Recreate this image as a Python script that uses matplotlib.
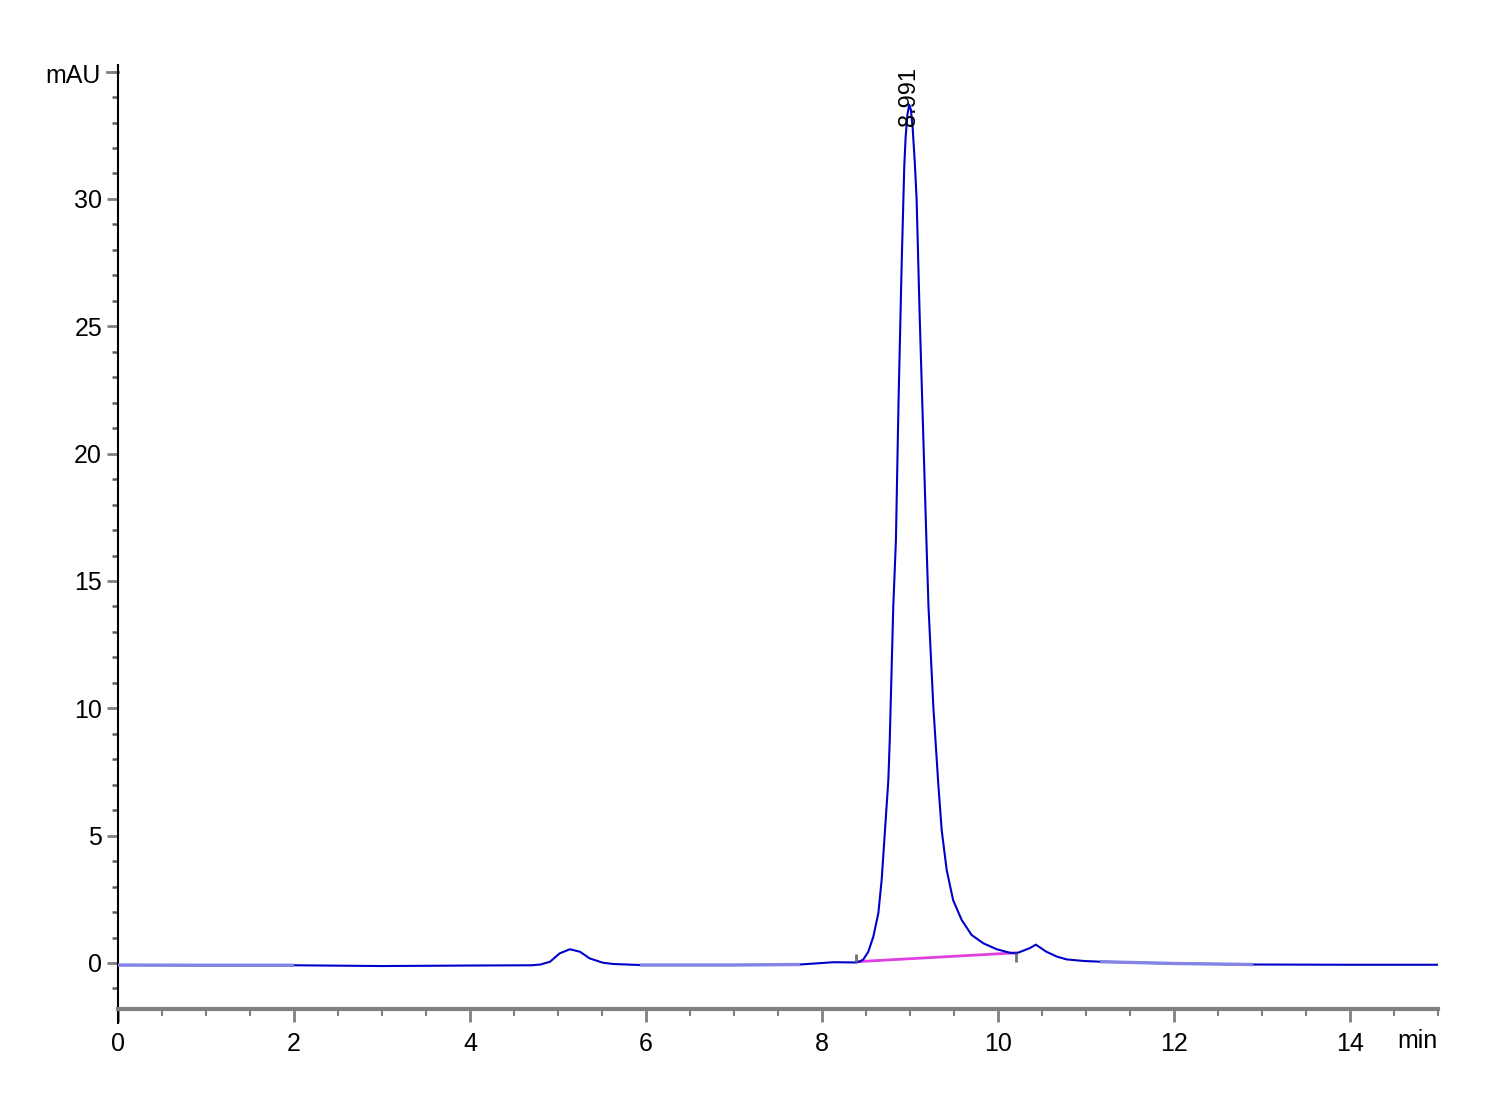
import matplotlib
matplotlib.use("Agg")
import matplotlib.pyplot as plt
import numpy as np
from matplotlib.ticker import MultipleLocator

# ---- data ----
time_min = [0.0, 1.0, 2.0, 3.0, 4.0, 4.7, 4.8, 4.91, 5.02, 5.136, 5.25, 5.36,
            5.51, 5.63, 5.93, 7.0, 7.75, 8.13, 8.39, 8.43, 8.47, 8.526, 8.583,
            8.64, 8.678, 8.716, 8.754, 8.77, 8.79, 8.81, 8.84, 8.87, 8.905,
            8.935, 8.95, 8.97, 8.991, 9.01, 9.03, 9.055, 9.075, 9.11, 9.15,
            9.19, 9.21, 9.265, 9.322, 9.36, 9.417, 9.49, 9.587, 9.70, 9.835,
            9.985, 10.136, 10.21, 10.36, 10.43, 10.55, 10.67, 10.78, 10.97,
            11.16, 12.0, 12.9, 14.0, 15.0]
signal_mau = [-0.08, -0.09, -0.09, -0.12, -0.10, -0.09, -0.06, 0.05, 0.38,
              0.54, 0.44, 0.18, 0.01, -0.04, -0.08, -0.08, -0.06, 0.03, 0.02,
              0.06, 0.14, 0.44, 1.03, 1.95, 3.26, 5.22, 7.19, 8.76, 11.4,
              14.0, 16.6, 22.1, 27.4, 31.3, 32.4, 33.3, 33.7, 33.5, 32.8,
              31.4, 30.0, 25.4, 20.8, 16.2, 14.0, 10.07, 7.0, 5.22, 3.65,
              2.47, 1.69, 1.10, 0.77, 0.54, 0.40, 0.38, 0.58, 0.72, 0.44,
              0.25, 0.14, 0.08, 0.05, -0.02, -0.06, -0.07, -0.07]

baseline_t = [8.39, 10.21]
baseline_v = [0.05, 0.40]

peak_rt = 8.991
peak_label = "8.991"

x_ticks = [0, 2, 4, 6, 8, 10, 12, 14]
y_ticks = [0, 5, 10, 15, 20, 25, 30]

light_ranges = [(0.0, 2.0), (5.93, 7.75), (11.16, 12.9)]

# ---- figure ----
fig = plt.figure(figsize=(15, 11), dpi=100)
ax = fig.add_axes([118/1500, 1 - 1009/1100, (1438-118)/1500, (1009-65)/1100])

t = np.array(time_min)
s = np.array(signal_mau)
ax.plot(t, s, color="#0000c8", lw=1.5, solid_joinstyle="round", zorder=3)
for a, b in light_ranges:
    m = (t >= a) & (t <= b)
    ax.plot(t[m], s[m], color="#8484e6", lw=2.4, zorder=4, solid_capstyle="butt")

ax.plot(baseline_t, baseline_v, color="#e040e0", lw=2.0, zorder=2)
ax.vlines([baseline_t[0]], [baseline_v[0] - 0.02], [baseline_v[0] + 0.3],
          color="#707070", lw=2, zorder=5)
ax.vlines([baseline_t[1]], [baseline_v[1] - 0.38], [baseline_v[1]],
          color="#707070", lw=2, zorder=5)

ax.text(peak_rt, 32.85, peak_label, rotation=90, ha="center", va="bottom",
        fontsize=17, family=["Liberation Sans", "DejaVu Sans"], color="black")

ax.set_xlim(0, 15)
ax.set_ylim(-1.807, 35.26)

for side in ["top", "right"]:
    ax.spines[side].set_visible(False)
ax.spines["left"].set_color("black")
ax.spines["left"].set_linewidth(1.5)
ax.spines["bottom"].set_color("#808080")
ax.spines["bottom"].set_linewidth(3)

ax.set_xticks(x_ticks)
ax.set_yticks(y_ticks)
ax.xaxis.set_minor_locator(MultipleLocator(0.5))
ax.yaxis.set_minor_locator(MultipleLocator(1))

lab_font = ["Liberation Sans Narrow", "Liberation Sans", "DejaVu Sans"]
ax.tick_params(axis="x", which="major", length=9.5, width=2, color="#808080",
               pad=7, labelsize=18)
ax.tick_params(axis="x", which="minor", length=5, width=1.5, color="#808080")
ax.tick_params(axis="y", which="major", length=8, width=2, color="#808080",
               pad=3.5, labelsize=18)
ax.tick_params(axis="y", which="minor", length=4.3, width=1.8, color="#606060")
for lbl in ax.get_xticklabels() + ax.get_yticklabels():
    lbl.set_family(lab_font)

# y axis extends a little below the x axis
ax.plot([0, 0], [0, -0.015], transform=ax.transAxes, color="black", lw=1.5,
        clip_on=False)
# long tick at the unit label height
ax.plot([-0.0083, 0], [35.0, 35.0], transform=ax.get_yaxis_transform(),
        color="#808080", lw=2, clip_on=False)

fig.text(101/1500, 1 - 76/1100, "mAU", ha="right", va="center", fontsize=18,
         family=lab_font)
fig.text(1438/1500, 1 - 1041/1100, "min", ha="right", va="center", fontsize=18,
         family=lab_font)

fig.savefig("out.png", dpi=100, facecolor="white")
